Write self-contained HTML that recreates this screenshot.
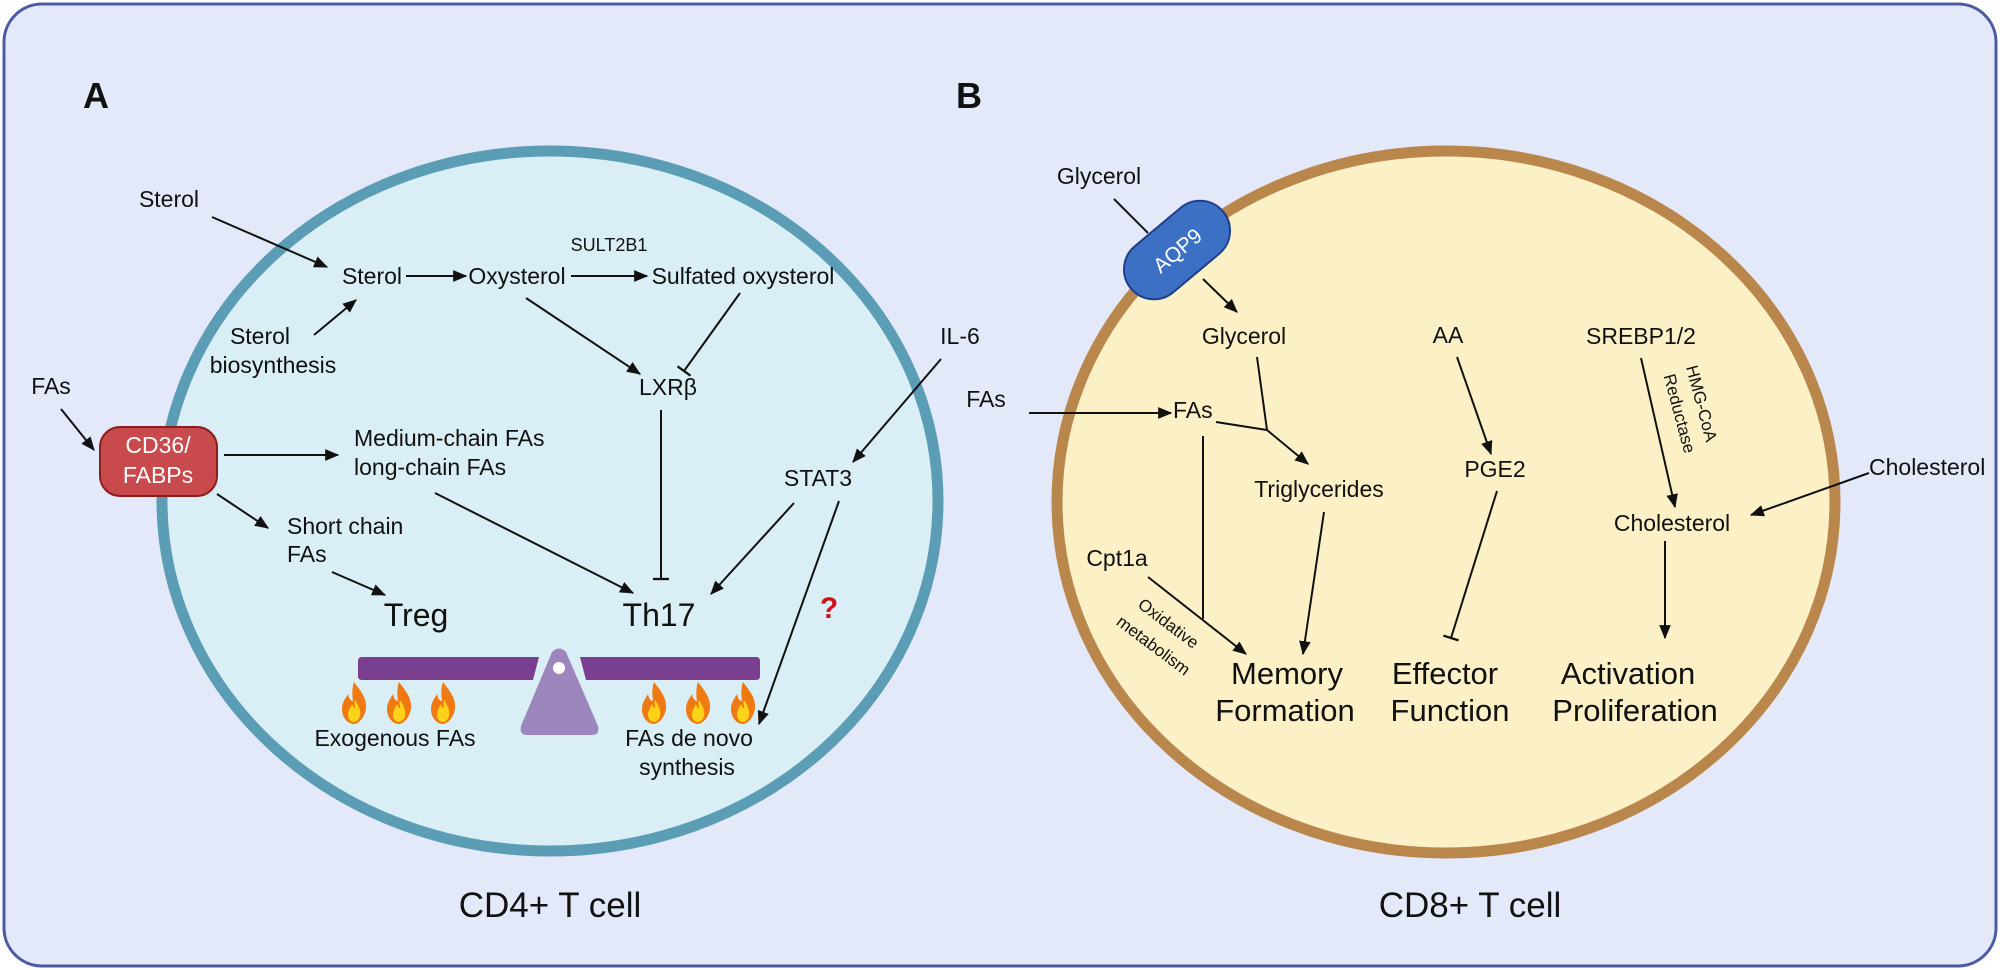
<!DOCTYPE html>
<html><head><meta charset="utf-8"><style>
html,body{margin:0;padding:0;background:#fff;width:2000px;height:970px;overflow:hidden}
svg{display:block}
text{font-family:"Liberation Sans",sans-serif;fill:#111}
</style></head><body>
<svg width="2000" height="970" viewBox="0 0 2000 970" xmlns="http://www.w3.org/2000/svg">
<defs>
<marker id="a" viewBox="0 0 12 10" refX="11" refY="5" markerWidth="14" markerHeight="12" orient="auto" markerUnits="userSpaceOnUse"><path d="M0,0 L12,5 L0,10 z" fill="#111"/></marker>
<marker id="t" viewBox="0 0 2 14" refX="1" refY="7" markerWidth="3" markerHeight="16" orient="auto" markerUnits="userSpaceOnUse"><rect x="0" y="0" width="2" height="14" fill="#111"/></marker>
<g id="flame"><path d="M0,-22 C6,-14 13,-6 12,4 C11,14 4,20 0,20 C-6,20 -12,14 -12,5 C-12,-2 -8,-6 -6,-10 C-5,-5 -3,-3 -1,-3 C-2,-10 -2,-16 0,-22z" fill="#f07a12"/><path d="M1,-4 C5,2 7,7 6,12 C5,16 2,18 0,18 C-3,18 -6,15 -6,11 C-6,6 -3,3 -2,0 C-1,3 0,4 1,4 C1,1 0,-1 1,-4z" fill="#ffd21a"/></g>
</defs>
<rect x="4" y="4" width="1992" height="962" rx="38" fill="#e4e9f9" stroke="#4b5ba3" stroke-width="3"/>
<text x="96" y="108" font-size="36" font-weight="bold" text-anchor="middle">A</text>
<text x="969" y="108" font-size="36" font-weight="bold" text-anchor="middle">B</text>

<ellipse cx="550" cy="501" rx="388" ry="350" fill="#d9eef5" stroke="#5c9db6" stroke-width="11"/>
<g font-size="23">
<text x="169" y="207" text-anchor="middle">Sterol</text>
<text x="372" y="284" text-anchor="middle">Sterol</text>
<text x="517" y="284" text-anchor="middle">Oxysterol</text>
<text x="609" y="251" text-anchor="middle" font-size="18">SULT2B1</text>
<text x="743" y="284" text-anchor="middle">Sulfated oxysterol</text>
<text x="260" y="344" text-anchor="middle">Sterol</text>
<text x="273" y="373" text-anchor="middle">biosynthesis</text>
<text x="668" y="395" text-anchor="middle">LXRβ</text>
<text x="960" y="344" text-anchor="middle">IL-6</text>
<text x="818" y="486" text-anchor="middle">STAT3</text>
<text x="51" y="394" text-anchor="middle">FAs</text>
<text x="354" y="446">Medium-chain FAs</text>
<text x="354" y="475">long-chain FAs</text>
<text x="287" y="534">Short chain</text>
<text x="287" y="562">FAs</text>
<text x="395" y="746" text-anchor="middle">Exogenous FAs</text>
<text x="689" y="746" text-anchor="middle">FAs de novo</text>
<text x="687" y="775" text-anchor="middle">synthesis</text>
</g>
<text x="416" y="626" font-size="32" text-anchor="middle">Treg</text>
<text x="659" y="626" font-size="32" text-anchor="middle">Th17</text>
<text x="829" y="618" font-size="30" font-weight="bold" text-anchor="middle" style="fill:#d0101a">?</text>
<text x="550" y="917" font-size="35" text-anchor="middle">CD4+ T cell</text>

<rect x="100" y="427" width="117" height="69" rx="20" fill="#c94a4c" stroke="#8b1d1f" stroke-width="2"/>
<text x="158" y="453" font-size="23" text-anchor="middle" style="fill:#fff">CD36/</text>
<text x="158" y="483" font-size="23" text-anchor="middle" style="fill:#fff">FABPs</text>

<g stroke="#111" stroke-width="2" fill="none">
<line x1="212" y1="217" x2="327" y2="267" marker-end="url(#a)"/>
<line x1="406" y1="276" x2="466" y2="276" marker-end="url(#a)"/>
<line x1="571" y1="276" x2="647" y2="276" marker-end="url(#a)"/>
<line x1="314" y1="335" x2="356" y2="300" marker-end="url(#a)"/>
<line x1="526" y1="298" x2="640" y2="374" marker-end="url(#a)"/>
<line x1="740" y1="293" x2="684" y2="371" marker-end="url(#t)"/>
<line x1="661" y1="410" x2="661" y2="579" marker-end="url(#t)"/>
<line x1="941" y1="359" x2="853" y2="462" marker-end="url(#a)"/>
<line x1="794" y1="503" x2="711" y2="594" marker-end="url(#a)"/>
<line x1="839" y1="501" x2="759" y2="724" marker-end="url(#a)"/>
<line x1="61" y1="409" x2="94" y2="450" marker-end="url(#a)"/>
<line x1="224" y1="455" x2="338" y2="455" marker-end="url(#a)"/>
<line x1="435" y1="493" x2="633" y2="593" marker-end="url(#a)"/>
<line x1="217" y1="494" x2="268" y2="528" marker-end="url(#a)"/>
<line x1="332" y1="572" x2="385" y2="595" marker-end="url(#a)"/>
</g>
<path d="M362,657 L539,657 L533,680 L362,680 Q358,680 358,676 L358,661 Q358,657 362,657z" fill="#7b3f8f"/>
<path d="M580,657 L756,657 Q760,657 760,661 L760,676 Q760,680 756,680 L586,680z" fill="#7b3f8f"/>
<path d="M552,652 Q559,645 566,652 L598,726 Q600,735 592,735 L527,735 Q519,735 521,726z" fill="#9c86bd"/>
<circle cx="559" cy="668" r="6" fill="#fff"/>
<use href="#flame" x="354" y="704"/><use href="#flame" x="399" y="704"/><use href="#flame" x="443" y="704"/>
<use href="#flame" x="654" y="704"/><use href="#flame" x="698" y="704"/><use href="#flame" x="743" y="704"/>

<ellipse cx="1446" cy="502" rx="389" ry="351" fill="#fcf0c7" stroke="#b9874b" stroke-width="11"/>
<g stroke="#111" stroke-width="2" fill="none">
<line x1="1114" y1="199" x2="1148" y2="233"/>
<line x1="1203" y1="279" x2="1237" y2="312" marker-end="url(#a)"/>
<line x1="1029" y1="413" x2="1171" y2="413" marker-end="url(#a)"/>
<polyline points="1257,357 1267,430 1216,422"/>
<line x1="1267" y1="430" x2="1308" y2="464" marker-end="url(#a)"/>
<line x1="1324" y1="512" x2="1303" y2="654" marker-end="url(#a)"/>
<line x1="1203" y1="436" x2="1203" y2="619"/>
<line x1="1148" y1="577" x2="1246" y2="654" marker-end="url(#a)"/>
<line x1="1457" y1="357" x2="1491" y2="454" marker-end="url(#a)"/>
<line x1="1497" y1="491" x2="1451" y2="638" marker-end="url(#t)"/>
<line x1="1641" y1="358" x2="1675" y2="507" marker-end="url(#a)"/>
<line x1="1869" y1="473" x2="1751" y2="515" marker-end="url(#a)"/>
<line x1="1665" y1="541" x2="1665" y2="638" marker-end="url(#a)"/>
</g>
<g transform="translate(1177,250) rotate(-40)">
<rect x="-60" y="-30" width="120" height="60" rx="30" fill="#3c70c5" stroke="#1f3f8a" stroke-width="2"/>
<text x="0" y="8" font-size="21" text-anchor="middle" style="fill:#fff">AQP9</text>
</g>
<g font-size="23">
<text x="1099" y="184" text-anchor="middle">Glycerol</text>
<text x="1244" y="344" text-anchor="middle">Glycerol</text>
<text x="986" y="407" text-anchor="middle">FAs</text>
<text x="1173" y="418">FAs</text>
<text x="1319" y="497" text-anchor="middle">Triglycerides</text>
<text x="1117" y="566" text-anchor="middle">Cpt1a</text>
<text x="1448" y="343" text-anchor="middle">AA</text>
<text x="1495" y="477" text-anchor="middle">PGE2</text>
<text x="1641" y="344" text-anchor="middle">SREBP1/2</text>
<text x="1869" y="475">Cholesterol</text>
<text x="1672" y="531" text-anchor="middle">Cholesterol</text>
</g>
<g font-size="17">
<text transform="translate(1165,628) rotate(37)" text-anchor="middle">Oxidative</text>
<text transform="translate(1150,650) rotate(37)" text-anchor="middle">metabolism</text>
<text transform="translate(1696,405) rotate(75)" text-anchor="middle">HMG-CoA</text>
<text transform="translate(1674,415) rotate(75)" text-anchor="middle">Reductase</text>
</g>
<g font-size="31" text-anchor="middle">
<text x="1287" y="684">Memory</text>
<text x="1285" y="721">Formation</text>
<text x="1445" y="684">Effector</text>
<text x="1450" y="721">Function</text>
<text x="1628" y="684">Activation</text>
<text x="1635" y="721">Proliferation</text>
</g>
<text x="1470" y="917" font-size="35" text-anchor="middle">CD8+ T cell</text>
</svg>
</body></html>
